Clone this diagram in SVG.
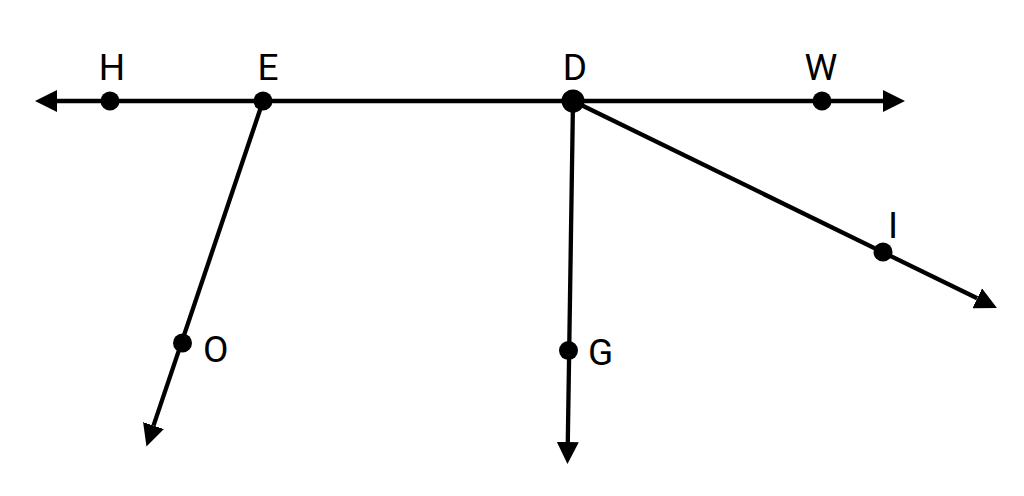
<svg xmlns="http://www.w3.org/2000/svg" width="1024" height="496" viewBox="0 0 1024 496">
<style>
.ln{stroke:#000;stroke-width:4.3;fill:none}
.pt{fill:#000}
.lb{font-family:Roboto,"Liberation Sans",sans-serif;font-size:37px;fill:#000}
</style>
<defs>
<marker id="ah" markerUnits="userSpaceOnUse" markerWidth="24" markerHeight="22" refX="0" refY="11" orient="auto-start-reverse" viewBox="0 0 24 22">
<path d="M0,0 L22,11 L0,22 z" fill="#000"/>
</marker>
</defs>
<rect width="1024" height="496" fill="#fff"/>
<g id="connectors">
<line class="ln" x1="57" y1="101" x2="883" y2="101" marker-start="url(#ah)" marker-end="url(#ah)"/>
<line class="ln" x1="263" y1="101" x2="153.5" y2="425.6" marker-end="url(#ah)"/>
<line class="ln" x1="573" y1="101" x2="567.8" y2="442" marker-end="url(#ah)"/>
<line class="ln" x1="573" y1="101" x2="977.2" y2="298.3" marker-end="url(#ah)"/>
</g>
<g id="H"><circle class="pt" cx="110" cy="101" r="9.5"/><text class="lb" x="112" y="80" text-anchor="middle">H</text></g>
<g id="E"><circle class="pt" cx="263" cy="101" r="9.5"/><text class="lb" x="268" y="80" text-anchor="middle">E</text></g>
<g id="D"><circle class="pt" cx="573" cy="101" r="11.5"/><text class="lb" x="575" y="80" text-anchor="middle">D</text></g>
<g id="W"><circle class="pt" cx="822" cy="101" r="9.5"/><text class="lb" x="821" y="80" text-anchor="middle">W</text></g>
<g id="O"><circle class="pt" cx="182.5" cy="343" r="9.5"/><text class="lb" x="203" y="362">O</text></g>
<g id="G"><circle class="pt" cx="568.5" cy="350.5" r="9.5"/><text class="lb" x="588" y="365">G</text></g>
<g id="I"><circle class="pt" cx="883" cy="252" r="9.5"/><text class="lb" x="888" y="238">I</text></g>
</svg>
